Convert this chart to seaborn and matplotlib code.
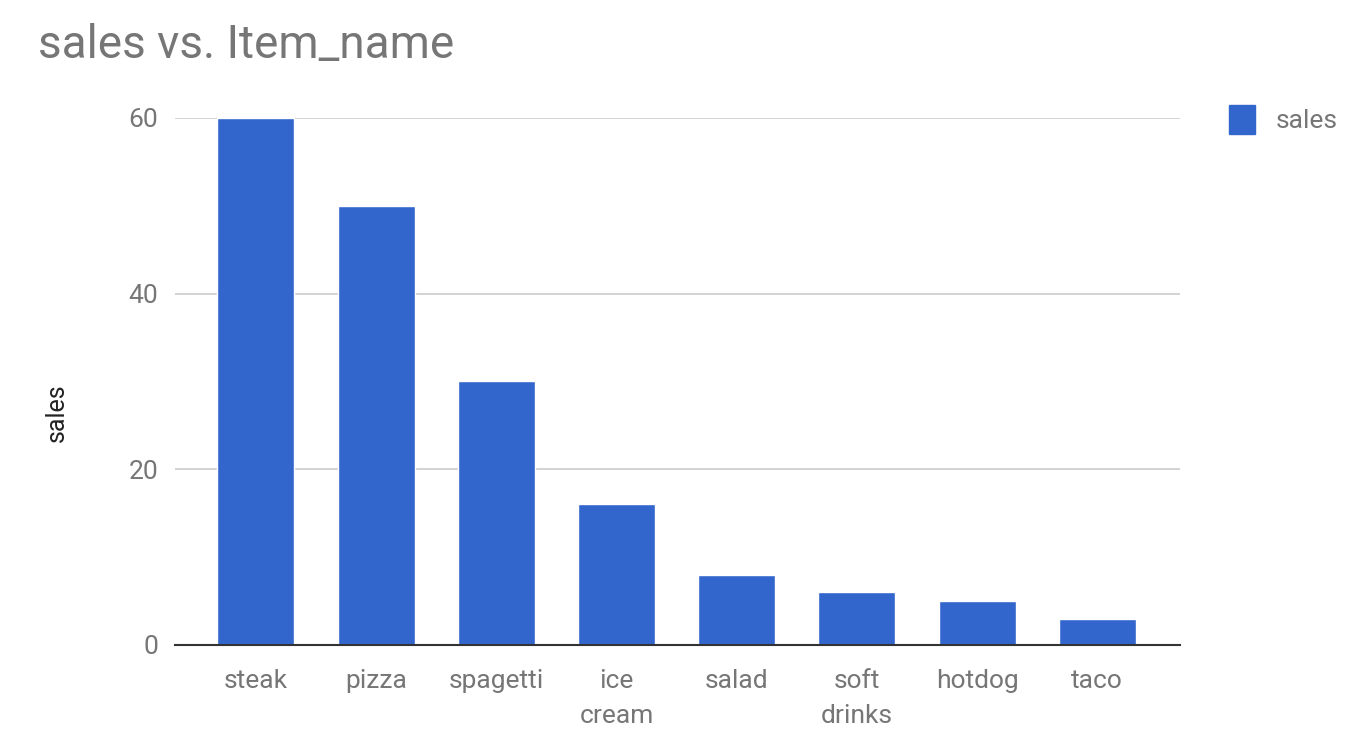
import pandas as pd
import matplotlib.pyplot as plt
import seaborn as sns
from matplotlib.patches import Patch

items = ["steak", "pizza", "spagetti", "ice\ncream", "salad", "soft\ndrinks", "hotdog", "taco"]
sales = [60, 50, 30, 16, 8, 6, 5, 3]
y_ticks = [0, 20, 40, 60]

df = pd.DataFrame({"item": items, "sales": sales})

sns.set_style("white")
plt.rcParams['font.family'] = ['Roboto', 'DejaVu Sans']

bar_color = "#3366cc"
text_gray = "#767676"

fig = plt.figure(figsize=(13.66, 7.54), dpi=100)
ax = fig.add_axes([0.128, 0.1446, 0.736, 0.699])

sns.barplot(data=df, x="item", y="sales", color=bar_color, width=0.64,
            saturation=1, ax=ax, zorder=3)

ax.set_ylim(0, 60)
ax.set_xlim(-0.674, 7.69)
ax.set_yticks(y_ticks)
ax.yaxis.grid(True, color="#cccccc", linewidth=1.2, zorder=0)
ax.set_axisbelow(True)

for s in ["top", "right", "left"]:
    ax.spines[s].set_visible(False)
ax.spines["bottom"].set_color("#333333")
ax.spines["bottom"].set_linewidth(1.5)
ax.spines["bottom"].set_zorder(5)

ax.tick_params(axis="both", length=0, labelsize=19, labelcolor=text_gray)
ax.tick_params(axis="x", pad=17)
ax.tick_params(axis="y", pad=12)
for lab in ax.get_xticklabels():
    lab.set_linespacing(1.6)

ax.set_xlabel("")
ax.set_ylabel("sales", fontsize=18, color="#222222")
ax.yaxis.set_label_coords(-0.105, 0.44)

fig.text(0.028, 0.94, "sales vs. Item_name", fontsize=33, color=text_gray,
         va="center", ha="left")

handles = [Patch(facecolor=bar_color, edgecolor=bar_color, label="sales")]
leg = fig.legend(handles=handles, loc="center left", bbox_to_anchor=(0.882, 0.842),
                 frameon=False, fontsize=19, handlelength=1.0, handleheight=1.3,
                 handletextpad=0.8)
for t in leg.get_texts():
    t.set_color(text_gray)

plt.savefig("out.png", dpi=100)
